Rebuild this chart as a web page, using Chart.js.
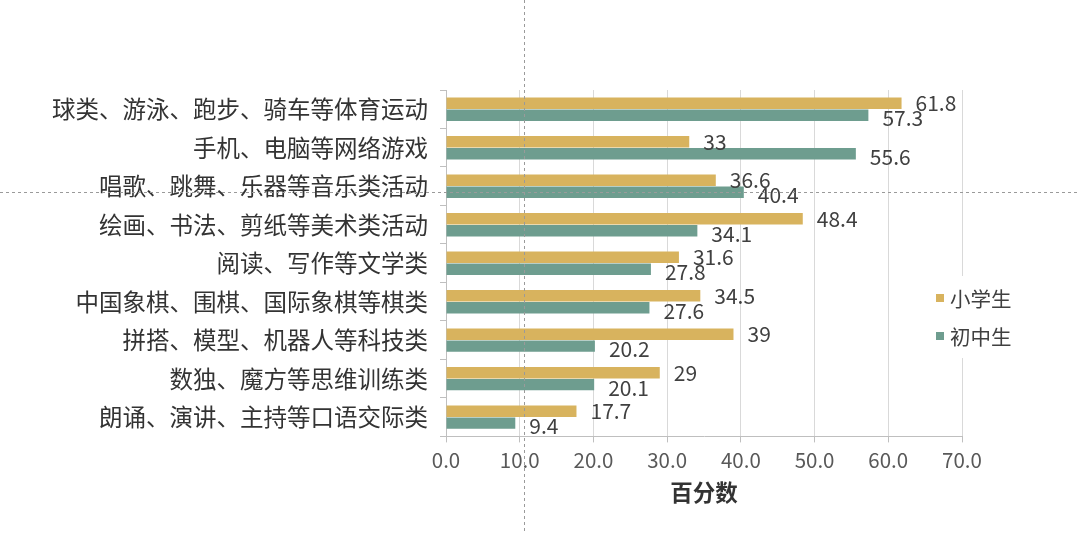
<!DOCTYPE html>
<html>
<head>
<meta charset="utf-8">
<script src="https://cdn.jsdelivr.net/npm/chart.js@4.4.1/dist/chart.umd.min.js"></script>
<style>
  html, body { margin: 0; padding: 0; background: #fff; }
  #contenedor { width: 1080px; height: 534px; }
</style>
</head>
<body>
<div id="contenedor"><canvas id="actividades"></canvas></div>
<script>
const categorias = [
  "球类、游泳、跑步、骑车等体育运动",
  "手机、电脑等网络游戏",
  "唱歌、跳舞、乐器等音乐类活动",
  "绘画、书法、剪纸等美术类活动",
  "阅读、写作等文学类",
  "中国象棋、围棋、国际象棋等棋类",
  "拼搭、模型、机器人等科技类",
  "数独、魔方等思维训练类",
  "朗诵、演讲、主持等口语交际类",
];
const series = ["小学生", "初中生"];
const primaria = [61.8, 33, 36.6, 48.4, 31.6, 34.5, 39, 29, 17.7];
const secundaria = [57.3, 55.6, 40.4, 34.1, 27.8, 27.6, 20.2, 20.1, 9.4];
const ejeMin = 0;
const ejeMax = 70;
const ejePaso = 10;
const tituloEje = "百分数";

const fuente = "'Noto Sans CJK SC', 'Noto Sans', sans-serif";
const colores = ["#D8B35E", "#6E9D8F"];

// etiquetas de valor al final de cada barra
const etiquetas = {
  id: "etiquetas",
  afterDatasetsDraw(chart) {
    const ctx = chart.ctx;
    ctx.save();
    ctx.font = "21px " + fuente;
    ctx.fillStyle = "#404040";
    ctx.textAlign = "left";
    ctx.textBaseline = "middle";
    chart.data.datasets.forEach((ds, i) => {
      const meta = chart.getDatasetMeta(i);
      meta.data.forEach((barra, j) => {
        const dy = i === 0 ? 0 : 3;
        ctx.fillText(String(ds.data[j]), barra.x + 14, barra.y + dy);
      });
    });
    ctx.restore();
  },
};

// leyenda dentro del area, con fondo blanco
const leyenda = {
  id: "leyenda",
  afterDraw(chart) {
    const ctx = chart.ctx;
    const area = chart.chartArea;
    const x = area.right - 26;
    const y0 = area.top + 208;
    ctx.save();
    ctx.fillStyle = "#fff";
    ctx.fillRect(x - 6, y0 - 22, 90, 82);
    ctx.font = "20.5px " + fuente;
    ctx.textBaseline = "middle";
    chart.data.datasets.forEach((ds, i) => {
      const y = y0 + i * 38;
      ctx.fillStyle = ds.backgroundColor;
      ctx.fillRect(x, y - 4, 8, 8);
      ctx.fillStyle = "#404040";
      ctx.fillText(ds.label, x + 14, y + 1);
    });
    ctx.restore();
  },
};

// lineas guia punteadas de la captura
const guias = {
  id: "guias",
  afterDraw(chart) {
    const ctx = chart.ctx;
    ctx.save();
    ctx.strokeStyle = "#9A9A9A";
    ctx.lineWidth = 1;
    ctx.setLineDash([3, 3]);
    ctx.beginPath();
    ctx.moveTo(524.5, 0);
    ctx.lineTo(524.5, chart.height);
    ctx.moveTo(0, 192.5);
    ctx.lineTo(chart.width, 192.5);
    ctx.stroke();
    ctx.restore();
  },
};

new Chart(document.getElementById("actividades"), {
  type: "bar",
  data: {
    labels: categorias,
    datasets: [
      {
        label: series[0],
        data: primaria,
        backgroundColor: colores[0],
        categoryPercentage: 0.62,
        barPercentage: 0.96,
      },
      {
        label: series[1],
        data: secundaria,
        backgroundColor: colores[1],
        categoryPercentage: 0.62,
        barPercentage: 0.96,
      },
    ],
  },
  options: {
    indexAxis: "y",
    responsive: true,
    maintainAspectRatio: false,
    animation: false,
    layout: {
      padding: { top: 90, right: 118, bottom: 24, left: 0 },
    },
    plugins: {
      legend: { display: false },
      tooltip: { enabled: false },
    },
    scales: {
      y: {
        grid: {
          drawOnChartArea: false,
          drawTicks: true,
          tickLength: 6,
          color: "#BFBFBF",
          offset: true,
        },
        border: { color: "#BFBFBF" },
        ticks: {
          font: { family: fuente, size: 23.5 },
          color: "#333333",
          padding: 12,
        },
        afterFit(scale) {
          scale.width = 446;
        },
      },
      x: {
        min: ejeMin,
        max: ejeMax,
        grid: {
          color: "#D9D9D9",
          tickColor: "#BFBFBF",
          tickLength: 6,
        },
        border: { color: "#BFBFBF" },
        ticks: {
          stepSize: ejePaso,
          font: { family: fuente, size: 20.5 },
          color: "#595959",
          padding: 6,
          callback: (v) => Number(v).toFixed(1),
        },
        title: {
          display: true,
          text: tituloEje,
          font: { family: fuente, size: 22.5, weight: "bold" },
          color: "#333333",
          padding: { top: 0, bottom: 4 },
        },
      },
    },
  },
  plugins: [etiquetas, leyenda, guias],
});
</script>
</body>
</html>
